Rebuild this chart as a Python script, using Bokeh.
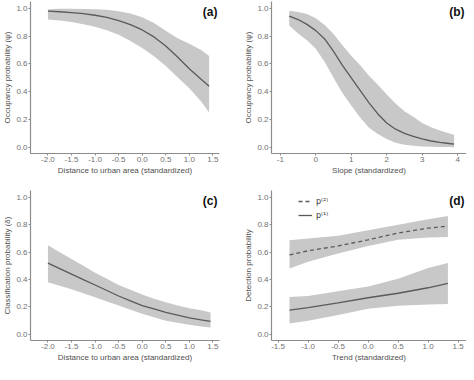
from bokeh.plotting import figure
from bokeh.layouts import gridplot
from bokeh.models import Range1d, Label, Legend, LegendItem, FixedTicker
from bokeh.embed import file_html
from bokeh.resources import INLINE

# ---- data ----
a_x = [-2.0, -1.75, -1.5, -1.25, -1.0, -0.75, -0.5, -0.25, 0.0, 0.25, 0.5, 0.75, 1.0, 1.25, 1.42]
a_mean = [0.98, 0.976, 0.97, 0.962, 0.951, 0.935, 0.913, 0.883, 0.845, 0.795, 0.73, 0.65, 0.565, 0.49, 0.44]
a_low = [0.92, 0.913, 0.902, 0.887, 0.868, 0.843, 0.81, 0.765, 0.715, 0.655, 0.585, 0.505, 0.425, 0.33, 0.25]
a_up = [0.995, 0.997, 0.997, 0.996, 0.994, 0.99, 0.98, 0.963, 0.937, 0.895, 0.84, 0.785, 0.745, 0.70, 0.658]

b_x = [-0.75, -0.5, -0.25, 0.0, 0.25, 0.5, 0.75, 1.0, 1.25, 1.5, 1.75, 2.0, 2.25, 2.5, 2.75, 3.0, 3.25, 3.5, 3.75, 3.9]
b_mean = [0.945, 0.92, 0.885, 0.84, 0.78, 0.69, 0.59, 0.50, 0.41, 0.32, 0.24, 0.175, 0.13, 0.10, 0.078, 0.06, 0.045, 0.035, 0.027, 0.022]
b_low = [0.877, 0.82, 0.77, 0.71, 0.615, 0.50, 0.39, 0.30, 0.215, 0.14, 0.095, 0.06, 0.032, 0.018, 0.01, 0.006, 0.003, 0.002, 0.001, 0.0]
b_up = [0.984, 0.975, 0.96, 0.93, 0.88, 0.815, 0.735, 0.66, 0.59, 0.515, 0.45, 0.38, 0.315, 0.26, 0.22, 0.175, 0.145, 0.12, 0.10, 0.09]

c_x = [-2.0, -1.75, -1.5, -1.25, -1.0, -0.75, -0.5, -0.25, 0.0, 0.25, 0.5, 0.75, 1.0, 1.25, 1.45]
c_mean = [0.52, 0.48, 0.44, 0.40, 0.36, 0.32, 0.28, 0.245, 0.21, 0.185, 0.16, 0.14, 0.12, 0.105, 0.095]
c_low = [0.38, 0.355, 0.33, 0.30, 0.27, 0.24, 0.21, 0.18, 0.15, 0.125, 0.10, 0.085, 0.07, 0.058, 0.05]
c_up = [0.65, 0.60, 0.55, 0.50, 0.45, 0.405, 0.36, 0.325, 0.29, 0.26, 0.235, 0.21, 0.19, 0.175, 0.16]

d_x = [-1.31, -1.0, -0.5, 0.0, 0.5, 1.0, 1.33]
d2_mean = [0.58, 0.61, 0.645, 0.69, 0.74, 0.775, 0.79]
d2_low = [0.48, 0.53, 0.59, 0.645, 0.69, 0.707, 0.71]
d2_up = [0.686, 0.70, 0.72, 0.76, 0.80, 0.84, 0.863]
d1_mean = [0.176, 0.195, 0.23, 0.267, 0.30, 0.34, 0.372]
d1_low = [0.08, 0.10, 0.142, 0.187, 0.208, 0.217, 0.222]
d1_up = [0.272, 0.28, 0.314, 0.35, 0.405, 0.485, 0.52]

y_ticks = [0.0, 0.2, 0.4, 0.6, 0.8, 1.0]
xt_a = [-2.0, -1.5, -1.0, -0.5, 0.0, 0.5, 1.0, 1.5]
xt_b = [-1, 0, 1, 2, 3, 4]
xt_d = [-1.5, -1.0, -0.5, 0.0, 0.5, 1.0, 1.5]

BAND = "#c8c8c8"
LINE = "#5a5a5a"
AX = "#8c8c8c"
TXT = "#707070"
FONT = "Liberation Sans"


def make_fig(xr, xticks, xlabel, ylabel, left, right, top, bottom, fmt):
    p = figure(width=233, height=182, output_backend="svg", toolbar_location=None,
               x_range=Range1d(*xr), y_range=Range1d(-0.045, 1.05),
               min_border_left=left, min_border_right=right,
               min_border_top=top, min_border_bottom=bottom)
    p.outline_line_color = None
    p.xgrid.visible = False
    p.ygrid.visible = False
    p.xaxis.ticker = FixedTicker(ticks=xticks)
    p.yaxis.ticker = FixedTicker(ticks=y_ticks)
    p.xaxis.major_label_overrides = {t: fmt.format(t) for t in xticks}
    p.yaxis.major_label_overrides = {t: "{:.1f}".format(t) for t in y_ticks}
    for ax in (p.xaxis[0], p.yaxis[0]):
        ax.axis_line_color = AX
        ax.axis_line_width = 1.2
        ax.major_tick_line_color = AX
        ax.minor_tick_line_color = None
        ax.major_tick_out = 2
        ax.major_tick_in = 0
        ax.major_label_text_color = TXT
        ax.major_label_text_font = FONT
        ax.major_label_text_font_size = "8px"
        ax.major_label_standoff = 1
        ax.axis_label_text_color = "#505050"
        ax.axis_label_text_font = FONT
        ax.axis_label_text_font_size = "8px"
        ax.axis_label_text_font_style = "normal"
        ax.axis_label_standoff = 1
    p.xaxis.axis_label = xlabel
    p.yaxis.axis_label = ylabel
    return p


def tag(p, txt):
    p.add_layout(Label(x=p.x_range.end, y=p.y_range.end, text=txt, text_align="right",
                       text_baseline="top", text_font_style="bold", text_font_size="12px",
                       text_font=FONT, text_color="#111111", x_offset=-2, y_offset=-3))


pa = make_fig((-2.37, 1.64), xt_a, "Distance to urban area (standardized)",
              "Occupancy probability (ψ)", 25, 14, 0, 28, "{:.1f}")
pa.varea(x=a_x, y1=a_low, y2=a_up, fill_color=BAND)
pa.line(a_x, a_mean, line_color=LINE, line_width=1.3)
tag(pa, "(a)")

pb = make_fig((-1.25, 4.25), xt_b, "Slope (standardized)",
              "Occupancy probability (ψ)", 38, 0, 1, 29, "{:d}")
pb.varea(x=b_x, y1=b_low, y2=b_up, fill_color=BAND)
pb.line(b_x, b_mean, line_color=LINE, line_width=1.3)
tag(pb, "(b)")

pc = make_fig((-2.37, 1.64), xt_a, "Distance to urban area (standardized)",
              "Classification probability (δ)", 25, 14, 8, 21, "{:.1f}")
pc.varea(x=c_x, y1=c_low, y2=c_up, fill_color=BAND)
pc.line(c_x, c_mean, line_color=LINE, line_width=1.3)
tag(pc, "(c)")

pd = make_fig((-1.61, 1.64), xt_d, "Trend (standardized)",
              "Detection probability", 36, 0, 8, 21, "{:.1f}")
pd.varea(x=d_x, y1=d2_low, y2=d2_up, fill_color=BAND)
pd.varea(x=d_x, y1=d1_low, y2=d1_up, fill_color=BAND)
l2 = pd.line(d_x, d2_mean, line_color=LINE, line_width=1.3, line_dash="4 3")
l1 = pd.line(d_x, d1_mean, line_color=LINE, line_width=1.3)
leg = Legend(items=[LegendItem(label="p⁽²⁾", renderers=[l2]),
                    LegendItem(label="p⁽¹⁾", renderers=[l1])],
             location=(27, 119), background_fill_alpha=0, border_line_color=None,
             label_text_font="DejaVu Sans", label_text_font_size="8px", label_text_color="#333333",
             glyph_width=14, glyph_height=12, label_height=12, spacing=2, padding=0,
             margin=0, label_standoff=4)
pd.add_layout(leg)
tag(pd, "(d)")

grid = gridplot([[pa, pb], [pc, pd]], toolbar_location=None)
open("out.html", "w").write(file_html(grid, INLINE))
